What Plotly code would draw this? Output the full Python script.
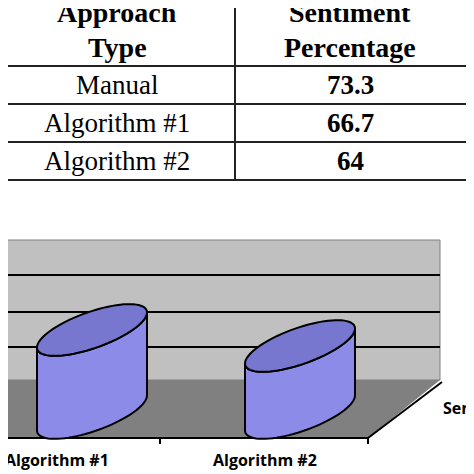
import numpy as np
import plotly.graph_objects as go

approaches = ["Manual", "Algorithm #1", "Algorithm #2"]
sentiment = [73.3, 66.7, 64]
value_labels = ["73.3", "66.7", "64"]

W = H = 474
OFF = 8  # page margin of the browser
# pixel <-> axis helpers (x: one category = 208 px, y: one unit = 5.93 px)
PX_PER_CAT = 208.0
PX_PER_UNIT = 5.93
BASE = 52.7


def px(x):
    return (x - OFF) / W


def py(y):
    return 1 - (y - OFF) / H


x_lo = 1 + (OFF - 92) / PX_PER_CAT
x_hi = 1 + (W + OFF - 92) / PX_PER_CAT
y_hi = BASE + (413 - OFF) / PX_PER_UNIT
y_lo = BASE + (413 - W - OFF) / PX_PER_UNIT

fig = go.Figure()
fig.add_trace(go.Scatter(x=[x_lo, x_hi], y=[y_lo, y_hi], mode="markers",
                         marker=dict(opacity=0), hoverinfo="skip", showlegend=False))

shapes = []
# back wall, grid lines, floor
shapes.append(dict(type="rect", xref="paper", yref="paper", x0=px(-5), x1=px(440), y0=py(380), y1=py(240),
                   fillcolor="#c0c0c0", line=dict(color="#808080", width=1), layer="below"))
for gy in [275, 312, 347]:
    shapes.append(dict(type="line", xref="paper", yref="paper", x0=px(0), x1=px(440), y0=py(gy), y1=py(gy),
                       line=dict(color="black", width=2), layer="below"))
shapes.append(dict(type="path", xref="paper", yref="paper", layer="below",
                   path=f"M {px(0)},{py(380)} L {px(440)},{py(380)} L {px(368)},{py(438)} L {px(0)},{py(438)} Z",
                   fillcolor="#808080", line=dict(width=0)))
shapes.append(dict(type="line", xref="paper", yref="paper", x0=px(0), x1=px(368), y0=py(438), y1=py(438),
                   line=dict(color="black", width=2)))
shapes.append(dict(type="line", xref="paper", yref="paper", x0=px(368), x1=px(442), y0=py(438), y1=py(382),
                   line=dict(color="black", width=2)))
for tx in [160, 368]:
    shapes.append(dict(type="line", xref="paper", yref="paper", x0=px(tx), x1=px(tx), y0=py(438), y1=py(444),
                       line=dict(color="black", width=2)))

# cylinders built from the data through the axes
a, slope, b = 55, 0.318, 19


def ell(cx, cy, thetas):
    pts = []
    for t in thetas:
        dx = a * np.cos(t)
        dy = -slope * a * np.cos(t) - b * np.sin(t)  # pixel offsets (down positive)
        pts.append((cx + dx / PX_PER_CAT, cy - dy / PX_PER_UNIT))
    return pts


for i, v in enumerate(sentiment):
    front = np.linspace(np.pi, 2 * np.pi, 40)  # front half (lower on screen)
    bottom = ell(i, BASE, front)
    top_front = ell(i, v, front)
    body = [top_front[0]] + bottom + top_front[::-1]
    path = "M " + " L ".join(f"{x},{y}" for x, y in body) + " Z"
    shapes.append(dict(type="path", xref="x", yref="y", path=path,
                       fillcolor="#8c8ce8", line=dict(color="black", width=2)))
    top = ell(i, v, np.linspace(0, 2 * np.pi, 80))
    path = "M " + " L ".join(f"{x},{y}" for x, y in top) + " Z"
    shapes.append(dict(type="path", xref="x", yref="y", path=path,
                       fillcolor="#7777d0", line=dict(color="black", width=2)))

# table
for ly in [66, 104, 142, 180]:
    shapes.append(dict(type="line", xref="paper", yref="paper", x0=px(0), x1=px(469), y0=py(ly), y1=py(ly),
                       line=dict(color="#222", width=2)))
for lx in [235, 469]:
    shapes.append(dict(type="line", xref="paper", yref="paper", x0=px(lx), x1=px(lx), y0=py(0), y1=py(180),
                       line=dict(color="#222", width=2)))

serif = "Liberation Serif"
ann = []
for txt, x, y in [("Approach", 117, 13), ("Type", 117, 47), ("Sentiment", 350, 13), ("Percentage", 350, 47)]:
    ann.append(dict(text=f"<b>{txt}</b>", x=px(x), y=py(y), font=dict(family=serif, size=28, color="black")))
for k, (name, lab) in enumerate(zip(approaches, value_labels)):
    yy = 85 + 38 * k
    ann.append(dict(text=name, x=px(117), y=py(yy), font=dict(family=serif, size=27, color="black")))
    ann.append(dict(text=f"<b>{lab}</b>", x=px(350), y=py(yy), font=dict(family=serif, size=27, color="black")))

# category labels under the chart
for i, name in enumerate(approaches):
    ann.append(dict(text=f"<b>{name}</b>", xref="x", x=i - 0.17, y=py(460),
                    font=dict(family="Open Sans", size=16, color="black")))
ann.append(dict(text="<b>Sentiment</b>", x=px(441), y=py(408), xanchor="left",
                font=dict(family="Open Sans", size=16, color="black")))
for d in ann:
    d.setdefault("xref", "paper")
    d["yref"] = "paper"
    d["showarrow"] = False
    d.setdefault("xanchor", "center")
    d["yanchor"] = "middle"

fig.update_layout(width=W, height=H, margin=dict(l=0, r=0, t=0, b=0),
                  paper_bgcolor="white", plot_bgcolor="rgba(0,0,0,0)",
                  xaxis=dict(range=[x_lo, x_hi], visible=False, fixedrange=True),
                  yaxis=dict(range=[y_lo, y_hi], visible=False, fixedrange=True),
                  shapes=shapes, annotations=ann, showlegend=False)

fig.write_html("out.html")
